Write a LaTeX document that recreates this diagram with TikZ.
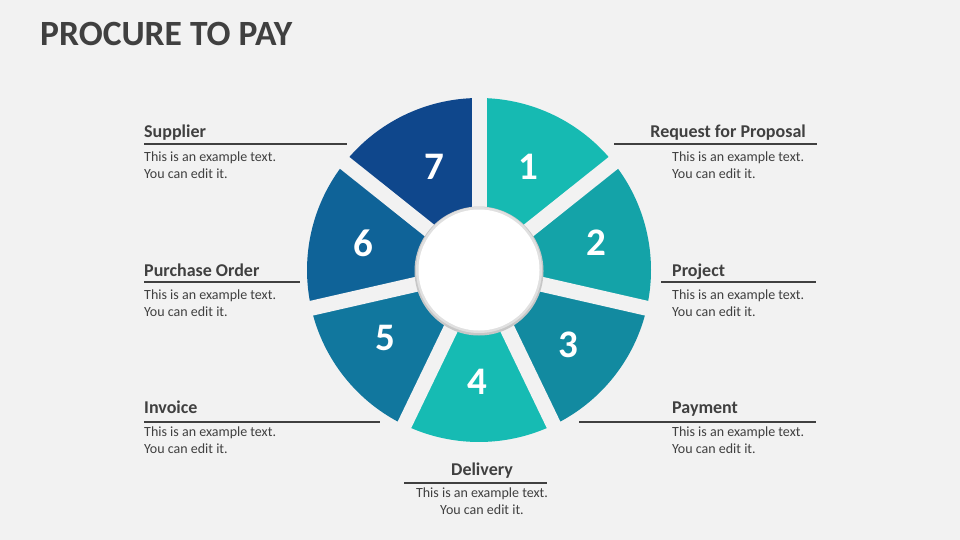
\documentclass[tikz,border=0pt]{standalone}
\usepackage{fontspec}
\setmainfont{Carlito}
\definecolor{bg}{HTML}{F2F2F2}
\definecolor{txt}{HTML}{404040}
\definecolor{cA}{HTML}{16BAB2}
\definecolor{cB}{HTML}{14A3A8}
\definecolor{cC}{HTML}{128AA0}
\definecolor{cD}{HTML}{16BBB3}
\definecolor{cE}{HTML}{11779E}
\definecolor{cF}{HTML}{0F6398}
\definecolor{cG}{HTML}{0F478C}
\begin{document}
\begin{tikzpicture}[x=1pt,y=-1pt,
 head/.style={font=\fontsize{18}{20}\selectfont\bfseries, text=txt, inner sep=0pt},
 body/.style={font=\fontsize{14}{16}\selectfont, text=txt, inner sep=0pt},
 rule/.style={draw=txt, line width=2pt},
 num/.style={font=\fontsize{39}{40}\selectfont\bfseries, text=white, inner sep=0pt}]
\fill[bg] (0,0) rectangle (960,540);
\useasboundingbox (0,0) rectangle (960,540);
\node[font=\fontsize{35.5}{40}\selectfont\bfseries, text=txt, anchor=base west, inner sep=0pt] (title) at (40,46) {PROCURE TO PAY};
% ring
\begin{scope}[shift={(479,270)}, yscale=-1]
\foreach \k/\c in {1/cA,2/cB,3/cC,4/cD,5/cE,6/cF,7/cG} {
  \pgfmathsetmacro\aa{90-(\k-1)*360/7}
  \pgfmathsetmacro\ab{90-\k*360/7}
  \fill[\c] (\aa:50) -- (\aa:172) arc[start angle=\aa, end angle=\ab, radius=172] -- (\ab:50) arc[start angle=\ab, end angle=\aa, radius=50] -- cycle;
}
\foreach \k in {0,...,6} {
  \draw[bg, line width=15pt] (0,0) -- ({90-\k*360/7}:185);
}
\fill[black!22] (0,-1) circle[radius=64.5];
\fill[black!12] (0,0) circle[radius=63];
\fill[white] (0,0) circle[radius=60.5];
\end{scope}
\node[num] (n1) at (528,167) {1};
\node[num] (n2) at (596,243) {2};
\node[num] (n3) at (568,345) {3};
\node[num] (n4) at (477,382) {4};
\node[num] (n5) at (385,338) {5};
\node[num] (n6) at (363,243) {6};
\node[num] (n7) at (434,167) {7};
% Supplier
\node[head, anchor=base west] (h7) at (144,138) {Supplier};
\node[body, anchor=base west] (b7a) at (144,161.7) {This is an example text.};
\node[body, anchor=base west] (b7b) at (144,178.3) {You can edit it.};
\coordinate (l7a) at (144,144.5); \coordinate (l7b) at (347,144.5);
\draw[rule] (l7a) -- (l7b);
% Purchase Order
\node[head, anchor=base west] (h6) at (144,276) {Purchase Order};
\node[body, anchor=base west] (b6a) at (144,299.5) {This is an example text.};
\node[body, anchor=base west] (b6b) at (144,316) {You can edit it.};
\coordinate (l6a) at (144,282); \coordinate (l6b) at (300,282);
\draw[rule] (l6a) -- (l6b);
% Invoice
\node[head, anchor=base west] (h5) at (144,413) {Invoice};
\node[body, anchor=base west] (b5a) at (144,436.7) {This is an example text.};
\node[body, anchor=base west] (b5b) at (144,453.3) {You can edit it.};
\coordinate (l5a) at (144,421.5); \coordinate (l5b) at (380,421.5);
\draw[rule] (l5a) -- (l5b);
% Request for Proposal
\node[head, anchor=base east] (h1) at (806,138) {Request for Proposal};
\node[body, anchor=base west] (b1a) at (672,161.7) {This is an example text.};
\node[body, anchor=base west] (b1b) at (672,178.3) {You can edit it.};
\coordinate (l1a) at (614,144.5); \coordinate (l1b) at (817,144.5);
\draw[rule] (l1a) -- (l1b);
% Project
\node[head, anchor=base west] (h2) at (672,276) {Project};
\node[body, anchor=base west] (b2a) at (672,299.5) {This is an example text.};
\node[body, anchor=base west] (b2b) at (672,316) {You can edit it.};
\coordinate (l2a) at (661,282); \coordinate (l2b) at (816,282);
\draw[rule] (l2a) -- (l2b);
% Payment
\node[head, anchor=base west] (h3) at (672,413) {Payment};
\node[body, anchor=base west] (b3a) at (672,436.7) {This is an example text.};
\node[body, anchor=base west] (b3b) at (672,453.3) {You can edit it.};
\coordinate (l3a) at (579,421.5); \coordinate (l3b) at (816,421.5);
\draw[rule] (l3a) -- (l3b);
% Delivery
\node[head, anchor=base] (h4) at (482,475) {Delivery};
\node[body, anchor=base] (b4a) at (482,497) {This is an example text.};
\node[body, anchor=base] (b4b) at (482,514) {You can edit it.};
\coordinate (l4a) at (404,482.5); \coordinate (l4b) at (547,482.5);
\draw[rule] (l4a) -- (l4b);
\end{tikzpicture}
\end{document}
